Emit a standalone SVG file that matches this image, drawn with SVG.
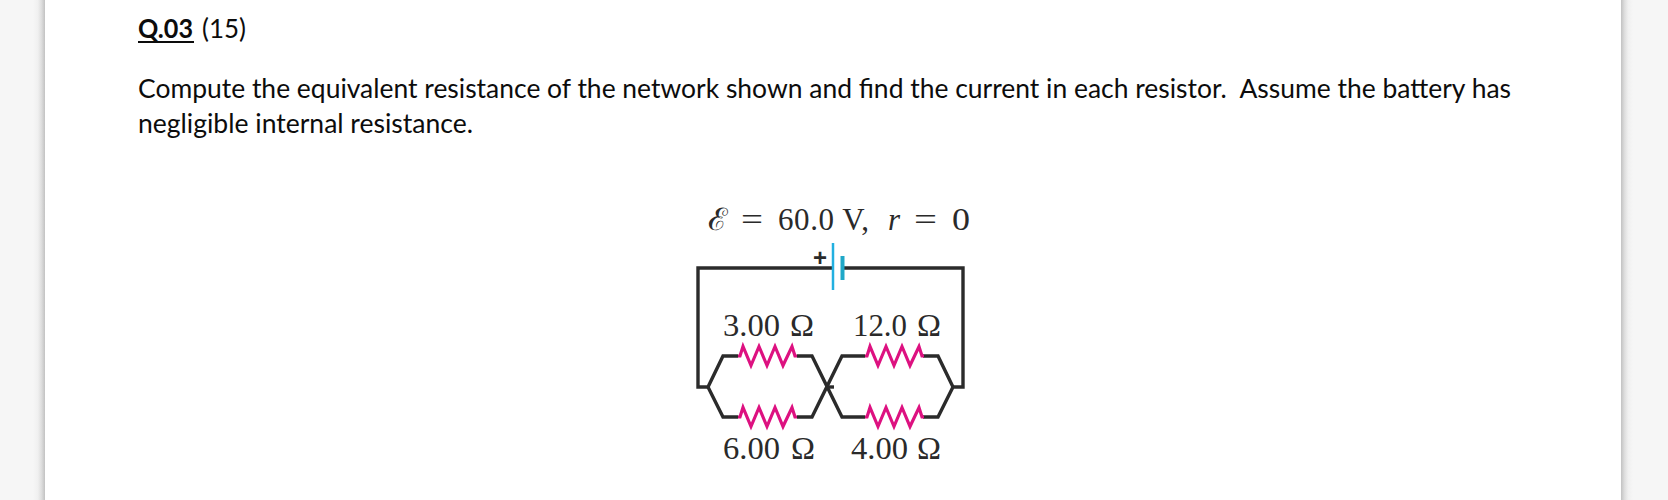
<svg xmlns="http://www.w3.org/2000/svg" width="1668" height="500" viewBox="0 0 1668 500">
<style>
.t{font-family:"Lato","Open Sans",sans-serif;font-size:26.5px;fill:#0c0c0c;white-space:pre}
.s{font-family:"Liberation Serif","Times New Roman",serif;font-size:31px;fill:#2a2a2a}
.w{fill:none;stroke:#2b2b2b;stroke-width:3.4;stroke-linejoin:miter}
.r{fill:none;stroke:#dd1180;stroke-width:3.2}
</style>
<defs>
<linearGradient id="sl" x1="1" x2="0" y1="0" y2="0"><stop offset="0" stop-color="#c2c2c2"/><stop offset="0.3" stop-color="#dedede"/><stop offset="0.6" stop-color="#f0f0f0"/><stop offset="1" stop-color="#f6f6f6"/></linearGradient>
<linearGradient id="sr" x1="0" x2="1" y1="0" y2="0"><stop offset="0" stop-color="#c2c2c2"/><stop offset="0.3" stop-color="#dedede"/><stop offset="0.6" stop-color="#f0f0f0"/><stop offset="1" stop-color="#f6f6f6"/></linearGradient>
<path id="zig" class="r" d="M0 0H2L5 -9.5 13 9.5 21 -9.5 29 9.5 37 -9.5 45 9.5 54 -9.5 57 0H59"/>
</defs>
<rect width="1668" height="500" fill="#f6f6f6"/>
<rect x="45" width="1576" height="500" fill="#fff"/>
<rect x="33" width="12" height="500" fill="url(#sl)"/>
<rect x="1621" width="12" height="500" fill="url(#sr)"/>
<g id="question">
<text class="t" x="138" y="38" font-weight="700" textLength="55" lengthAdjust="spacingAndGlyphs">Q.03</text>
<rect x="138" y="41" width="56" height="2" fill="#0c0c0c"/>
<text class="t" x="202" y="38" textLength="44" lengthAdjust="spacingAndGlyphs">(15)</text>
<text class="t" x="138" y="98" textLength="1373" lengthAdjust="spacingAndGlyphs">Compute the equivalent resistance of the network shown and find the current in each resistor.  Assume the battery has</text>
<text class="t" x="138" y="133" textLength="335" lengthAdjust="spacingAndGlyphs">negligible internal resistance.</text>
</g>
<g id="connectors">
<path class="w" d="M833 268H698V387H708L723 356H738M797 356H812L842 417H865M923 417H938L953 387H963V268H842"/>
<path class="w" d="M708 387L723 417H738M797 417H812L842 356H865M923 356H938L953 387"/>
<path class="w" d="M826 387H834"/>
</g>
<g id="battery">
<path d="M833 243V290" stroke="#22b0e0" stroke-width="2.5"/>
<path d="M842.5 256V280" stroke="#1fa8c8" stroke-width="4"/>
<text x="820" y="266" text-anchor="middle" font-family="Liberation Sans,sans-serif" font-weight="700" font-size="24" fill="#2a2a2a">+</text>
<text class="s" x="708" y="230" font-size="36" font-family="DejaVu Serif,serif" textLength="20" lengthAdjust="spacingAndGlyphs">ℰ</text>
<text class="s" x="741" y="230" textLength="22" lengthAdjust="spacingAndGlyphs">=</text>
<text class="s" x="778" y="230" textLength="91" lengthAdjust="spacing">60.0 V,</text>
<text class="s" x="888" y="230" font-style="italic">r</text>
<text class="s" x="914" y="230" textLength="23" lengthAdjust="spacingAndGlyphs">=</text>
<text class="s" x="952" y="230" textLength="18" lengthAdjust="spacingAndGlyphs">0</text>
</g>
<g id="r3"><use href="#zig" x="738" y="356"/><text class="s" x="723" y="336" textLength="57" lengthAdjust="spacingAndGlyphs">3.00</text><text class="s" x="790" y="336" textLength="24" lengthAdjust="spacingAndGlyphs">Ω</text></g>
<g id="r12"><use href="#zig" x="865" y="356"/><text class="s" x="853" y="336" textLength="54" lengthAdjust="spacingAndGlyphs">12.0</text><text class="s" x="917" y="336" textLength="24" lengthAdjust="spacingAndGlyphs">Ω</text></g>
<g id="r6"><use href="#zig" x="738" y="417"/><text class="s" x="723" y="459" textLength="57" lengthAdjust="spacingAndGlyphs">6.00</text><text class="s" x="791" y="459" textLength="24" lengthAdjust="spacingAndGlyphs">Ω</text></g>
<g id="r4"><use href="#zig" x="865" y="417"/><text class="s" x="851" y="459" textLength="57" lengthAdjust="spacingAndGlyphs">4.00</text><text class="s" x="917" y="459" textLength="24" lengthAdjust="spacingAndGlyphs">Ω</text></g>
</svg>
